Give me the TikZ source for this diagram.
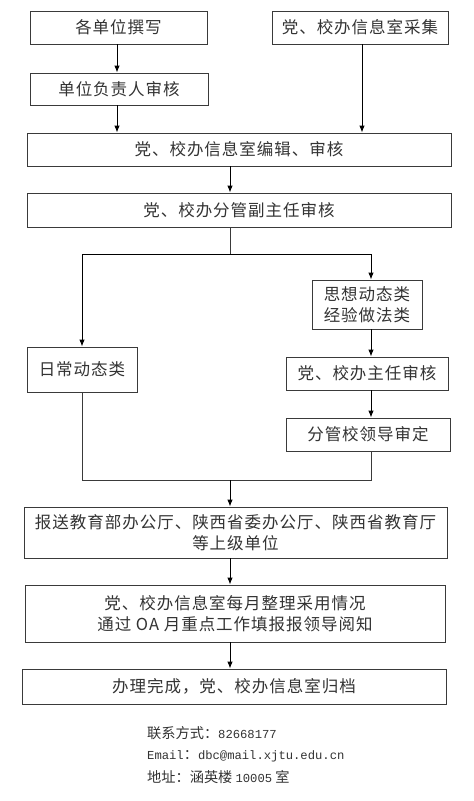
\documentclass[tikz,border=0pt]{standalone}
\usepackage{fontspec}
\setmainfont{Noto Sans CJK SC}
\newfontfamily\monof{Liberation Mono}
\usetikzlibrary{arrows.meta,calc}
\definecolor{linec}{HTML}{3A3A3A}
\definecolor{txtc}{HTML}{333333}
\tikzset{
  box/.style={draw=linec, line width=0.9pt, inner sep=0pt, align=center, text=txtc,
    font=\fontsize{16.5}{20.5}\selectfont\addfontfeatures{LetterSpace=6}},
  arr/.style={draw=black, line width=0.9pt, -{Latex[length=7pt,width=5.5pt]}},
  ln/.style={draw=linec, line width=0.9pt},
  info/.style={anchor=west, inner sep=0pt, text=txtc, font=\fontsize{14.2}{16}\selectfont}
}
\newcommand{\mtxt}[1]{{\monof\fontsize{12.2}{14}\selectfont #1}}
\begin{document}
\begin{tikzpicture}[x=1pt,y=-1pt]
\useasboundingbox[fill=white] (0,0) rectangle (474,801);
% boxes
\node[box, minimum width=177pt, minimum height=33pt] (a1) at (118.5,27.5) {各单位撰写};
\node[box, minimum width=176pt, minimum height=33pt] (a2) at (360,27.5) {党、校办信息室采集};
\node[box, minimum width=178pt, minimum height=32pt] (a3) at (119,89) {单位负责人审核};
\node[box, minimum width=424pt, minimum height=33pt] (b) at (239,149.5) {党、校办信息室编辑、审核};
\node[box, minimum width=424pt, minimum height=34pt] (c) at (239,210) {党、校办分管副主任审核};
\node[box, minimum width=110pt, minimum height=45pt] (d) at (82,369.5) {日常动态类};
\node[box, minimum width=110pt, minimum height=49pt] (e) at (367,304.5) {思想动态类\\经验做法类};
\node[box, minimum width=162pt, minimum height=33pt] (f) at (367,373.5) {党、校办主任审核};
\node[box, minimum width=164pt, minimum height=33pt] (g) at (368,434.5) {分管校领导审定};
\node[box, minimum width=423pt, minimum height=51pt] (h) at (235.5,532.5) {报送教育部办公厅、陕西省委办公厅、陕西省教育厅\\等上级单位};
\node[box, minimum width=420pt, minimum height=57pt] (i) at (235,613.5) {党、校办信息室每月整理采用情况\\通过 OA 月重点工作填报报领导阅知};
\node[box, minimum width=424pt, minimum height=35pt] (j) at (234,686.5) {办理完成，党、校办信息室归档};
% coordinates
\coordinate (lx) at (117,0);
\coordinate (rx) at (362,0);
\coordinate (tx) at (230,0);
\coordinate (dx) at (82,0);
\coordinate (ex) at (371,0);
\coordinate (s1) at (230,254);
\coordinate (s2) at (230,480);
% connectors
\draw[arr] (a1.south -| lx) -- (a3.north -| lx);
\draw[arr] (a3.south -| lx) -- (b.north -| lx);
\draw[arr] (a2.south -| rx) -- (b.north -| rx);
\draw[arr] (b.south -| tx) -- (c.north -| tx);
\draw[ln] (c.south -| tx) -- (s1);
\draw[arr] (s1) -- (dx |- s1) -- (d.north -| dx);
\draw[arr] (s1) -- (ex |- s1) -- (e.north -| ex);
\draw[arr] (e.south -| ex) -- (f.north -| ex);
\draw[arr] (f.south -| ex) -- (g.north -| ex);
\draw[ln] (d.south -| dx) -- (dx |- s2) -- (ex |- s2) -- (g.south -| ex);
\draw[arr] (s2) -- (h.north -| tx);
\draw[arr] (h.south -| tx) -- (i.north -| tx);
\draw[arr] (i.south -| tx) -- (j.north -| tx);
% info text
\node[info] (t1) at (147,733) {联系方式：\mtxt{82668177}};
\node[info] (t2) at (147,756) {\mtxt{Email}：\mtxt{dbc@mail.xjtu.edu.cn}};
\node[info] (t3) at (147,777) {地址：涵英楼 \mtxt{10005} 室};
\end{tikzpicture}
\end{document}
